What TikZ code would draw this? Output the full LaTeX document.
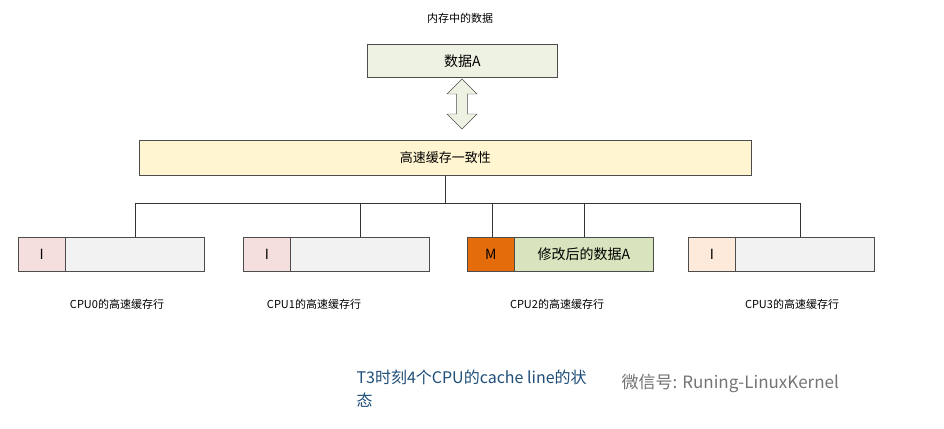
\documentclass[tikz,border=0pt]{standalone}
\usepackage{fontspec}
\setmainfont{Noto Sans CJK SC}
\usetikzlibrary{shapes.arrows}
\definecolor{topf}{HTML}{EEF2E2}
\definecolor{barf}{HTML}{FFF5D0}
\definecolor{If}{HTML}{F5DEDE}
\definecolor{Ithree}{HTML}{FDEADA}
\definecolor{restf}{HTML}{F2F2F2}
\definecolor{Mf}{HTML}{E46C0A}
\definecolor{dataf}{HTML}{D7E4BD}
\definecolor{cap}{HTML}{1F4E79}
\begin{document}
\begin{tikzpicture}[x=1pt,y=-1pt,
 box/.style={draw=black!70,line width=0.6pt,anchor=north west,inner sep=0pt},
 lbl/.style={font=\fontsize{11}{13}\selectfont},
 ln/.style={draw=black!80,line width=0.6pt}]
\useasboundingbox (0,0) rectangle (944,428);
\node[lbl] (title) at (460,18) {内存中的数据};
\node[box,fill=topf,minimum width=190pt,minimum height=33pt,font=\fontsize{14}{16}\selectfont] (mem) at (367,44) {数据A};
\node[box,fill=barf,minimum width=612pt,minimum height=35pt,font=\fontsize{13}{15}\selectfont] (bar) at (139,140) {高速缓存一致性};
\node[double arrow,shape border rotate=90,draw=black!70,fill=topf,minimum width=30pt,minimum height=50pt,double arrow head extend=4pt,inner sep=2pt] (arr) at (462,104) {};
\foreach \n/\x/\cf/\lt/\rf/\rt in {0/18/If/I/restf/,1/243/If/I/restf/,2/467/Mf/M/dataf/修改后的数据A,3/688/Ithree/I/restf/}{
 \node[box,fill=\cf,minimum width=47pt,minimum height=34pt,font=\fontsize{14}{16}\selectfont] (s\n) at (\x,237) {\lt};
 \node[box,fill=\rf,minimum width=139pt,minimum height=34pt,font=\fontsize{14}{16}\selectfont] (d\n) at (\x+47,237) {\rt};
}
\node[lbl] (l0) at (117,304) {CPU0的高速缓存行};
\node[lbl] (l1) at (314,304) {CPU1的高速缓存行};
\node[lbl] (l2) at (557,304) {CPU2的高速缓存行};
\node[lbl] (l3) at (792,304) {CPU3的高速缓存行};
\coordinate (j) at (445,203);
\draw[ln] (bar.south -| j) -- (j);
\draw[ln] (135,203) -- (800,203);
\draw[ln] (135,203) -- (135,237);
\draw[ln] (360,203) -- (360,237);
\draw[ln] (492,203) -- (492,237);
\draw[ln] (584,203) -- (584,237);
\draw[ln] (800,203) -- (800,237);
\node[anchor=west,text=cap,font=\fontsize{16}{18}\selectfont] (c1) at (353,377) {T3时刻4个CPU的cache line的状};
\node[anchor=west,text=cap,font=\fontsize{16}{18}\selectfont] (c2) at (353,400) {态};
\node[anchor=west,text=black!55,font=\fontsize{17}{19}\selectfont] (wm) at (618,383) {微信号: Runing-LinuxKernel};
\end{tikzpicture}
\end{document}
